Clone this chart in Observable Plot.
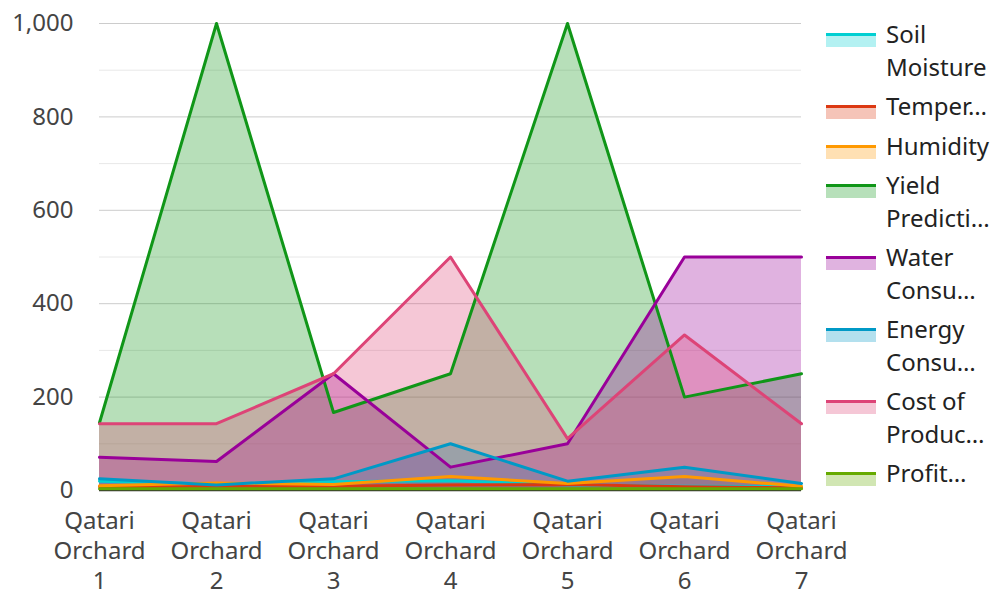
<!DOCTYPE html>
<html>
<head>
<meta charset="utf-8">
<script src="https://cdn.jsdelivr.net/npm/d3@7"></script>
<script src="https://cdn.jsdelivr.net/npm/@observablehq/plot@0.6"></script>
<style>
  html, body { margin: 0; padding: 0; background: #fff; }
  #wrap { position: relative; width: 995px; height: 594px; font-family: "Noto Sans", "Open Sans", sans-serif; }
  #legend { position: absolute; left: 826px; top: 18px; width: 169px; }
  .item { display: flex; align-items: flex-start; margin-bottom: 7px; }
  .sw { width: 50px; height: 14px; margin-top: 15px; flex: none; box-sizing: border-box; }
  .lab { margin-left: 10px; font-size: 24px; line-height: 32.5px; color: #222; white-space: pre; }
</style>
</head>
<body>
<div id="wrap"><div id="chart"></div><div id="legend"></div></div>
<script>
const orchards = ["Qatari Orchard 1","Qatari Orchard 2","Qatari Orchard 3","Qatari Orchard 4","Qatari Orchard 5","Qatari Orchard 6","Qatari Orchard 7"];
const seriesNames = ["Soil Moisture","Temperature","Humidity","Yield Prediction","Water Consumption","Energy Consumption","Cost of Production","Profit Margin"];
const legendLabels = ["Soil\nMoisture","Temper…","Humidity","Yield\nPredicti…","Water\nConsu…","Energy\nConsu…","Cost of\nProduc…","Profit…"];
const colors = ["#00cfd2","#dc3912","#ff9900","#109618","#990099","#0099c6","#dd4477","#66aa00"];

const soilMoisture = [20, 14, 19, 21, 12, 9, 8];
const temperature = [8, 9, 9, 12, 13, 8, 6];
const humidity = [10, 16, 13, 30, 15, 30, 9];
const yieldPrediction = [145, 1000, 167, 250, 1000, 200, 250];
const waterConsumption = [71, 62, 250, 50, 100, 500, 500];
const energyConsumption = [25, 12, 25, 100, 20, 50, 15];
const costOfProduction = [143, 143, 250, 500, 111, 333, 143];
const profitMargin = [4, 4, 4, 4, 4, 4, 4];

const yTicks = [0, 200, 400, 600, 800, 1000];
const yGrid = [100, 200, 300, 400, 500, 600, 700, 800, 900, 1000];

const allValues = [soilMoisture, temperature, humidity, yieldPrediction, waterConsumption, energyConsumption, costOfProduction, profitMargin];
const data = [];
seriesNames.forEach((s, i) => orchards.forEach((o, j) => data.push({series: s, orchard: o, value: allValues[i][j]})));

const chart = Plot.plot({
  width: 995,
  height: 594,
  marginLeft: 99,
  marginRight: 194,
  marginTop: 23,
  marginBottom: 104,
  style: {fontFamily: '"Noto Sans", "Open Sans", sans-serif', fontSize: "24px", color: "#444", background: "#fff"},
  x: {type: "point", domain: orchards, padding: 0, label: null},
  y: {domain: [0, 1000], label: null},
  color: {domain: seriesNames, range: colors},
  marks: [
    Plot.ruleY(yGrid, {stroke: d => d % 200 === 0 ? "#cccccc" : "#e8e8e8", strokeWidth: 1}),
    Plot.areaY(data, {x: "orchard", y1: 0, y2: "value", z: "series", fill: "series", fillOpacity: 0.3}),
    Plot.ruleY([0], {stroke: "#333", strokeWidth: 1.5}),
    Plot.lineY(data, {x: "orchard", y: "value", z: "series", stroke: "series", strokeWidth: 3}),
    Plot.axisY(yTicks, {label: null, tickSize: 0, tickPadding: 26, fill: "#444", fontSize: 24, tickFormat: d3.format(",")}),
    Plot.axisX({label: null, tickSize: 0, tickPadding: 17, fill: "#444", fontSize: 24, lineHeight: 1.25, tickFormat: d => d.replace(/ /g, "\n")})
  ]
});
document.getElementById("chart").appendChild(chart);

const legend = document.getElementById("legend");
seriesNames.forEach((s, i) => {
  const item = document.createElement("div");
  item.className = "item";
  const sw = document.createElement("div");
  sw.className = "sw";
  const light = d3.interpolateRgb("#fff", colors[i])(0.3);
  sw.style.background = light;
  sw.style.borderTop = "3px solid " + colors[i];
  const lab = document.createElement("div");
  lab.className = "lab";
  lab.textContent = legendLabels[i];
  item.appendChild(sw);
  item.appendChild(lab);
  legend.appendChild(item);
});
</script>
</body>
</html>
